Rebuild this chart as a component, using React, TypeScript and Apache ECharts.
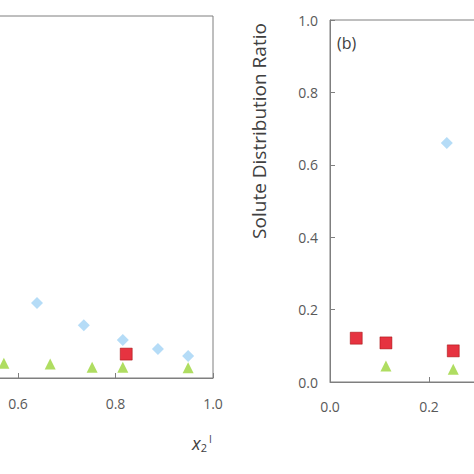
import { useEffect, useRef } from "react";
import * as echarts from "echarts";

// panel (a), only its right part is visible
const aDiamondX = [0.639, 0.735, 0.815, 0.887, 0.949];
const aDiamondY = [0.207, 0.146, 0.105, 0.08, 0.061];
const aSquareX = [0.822];
const aSquareY = [0.066];
const aTriangleX = [0.571, 0.666, 0.752, 0.815, 0.949];
const aTriangleY = [0.041, 0.039, 0.03, 0.03, 0.028];

// panel (b)
const bDiamondX = [0.236];
const bDiamondY = [0.66];
const bSquareX = [0.053, 0.113, 0.249];
const bSquareY = [0.121, 0.108, 0.086];
const bTriangleX = [0.113, 0.249];
const bTriangleY = [0.044, 0.035];

// tick labels that fall inside the window
const aXLabels = [0.6, 0.8, 1.0];
const bXLabels = [0.0, 0.2];
const bYLabels = [0.0, 0.2, 0.4, 0.6, 0.8, 1.0];

const zip = (xs: number[], ys: number[]) => xs.map((x, i) => [x, ys[i]]);

const FONT = "'Open Sans', 'Noto Sans', sans-serif";
const AXIS = "#7f7f7f";
const LABEL = "#595959";
// the figure is wider than the window; the chart canvas is shifted left by this much
const SHIFT = 300;

export default function App() {
  const chartRef = useRef<HTMLDivElement>(null);

  useEffect(() => {
    if (!chartRef.current) return;
    const chart = echarts.init(chartRef.current, null, { renderer: "svg" });

    const near = (list: number[], v: number) => list.some((t) => Math.abs(t - v) < 1e-6);

    const axisBase = (gridIndex: number, margin: number, shown: number[]) => ({
      type: "value",
      gridIndex,
      min: 0,
      max: 1,
      interval: 0.2,
      axisLine: { show: true, lineStyle: { color: AXIS } },
      axisTick: { show: true, inside: true, length: 5, lineStyle: { color: AXIS } },
      splitLine: { show: false },
      axisLabel: {
        color: LABEL,
        fontSize: 14,
        fontFamily: FONT,
        margin,
        formatter: (v: number) => (near(shown, v) ? v.toFixed(1) : ""),
      },
    });

    const diamond = { symbol: "diamond", symbolSize: 12, itemStyle: { color: "#a3d3f5" } };
    const square = {
      symbol: "rect",
      symbolSize: 12,
      itemStyle: { color: "#e00010", borderColor: "#9a0000", borderWidth: 0.6 },
    };
    const triangle = { symbol: "triangle", symbolSize: 11, itemStyle: { color: "#9bd43a" } };

    const option = {
      animation: false,
      grid: [
        { left: SHIFT - 274.5, top: 16, width: 487.5, height: 362, show: true, borderColor: AXIS, borderWidth: 1 },
        { left: SHIFT + 330, top: 20, width: 495, height: 362, show: true, borderColor: AXIS, borderWidth: 1 },
      ],
      xAxis: [axisBase(0, 18, aXLabels), axisBase(1, 17, bXLabels)],
      yAxis: [axisBase(0, 12, []), axisBase(1, 12, bYLabels)],
      series: [
        { type: "scatter", xAxisIndex: 0, yAxisIndex: 0, data: zip(aDiamondX, aDiamondY), ...diamond },
        { type: "scatter", xAxisIndex: 0, yAxisIndex: 0, data: zip(aTriangleX, aTriangleY), ...triangle },
        { type: "scatter", xAxisIndex: 0, yAxisIndex: 0, data: zip(aSquareX, aSquareY), ...square },
        { type: "scatter", xAxisIndex: 1, yAxisIndex: 1, data: zip(bDiamondX, bDiamondY), ...diamond },
        { type: "scatter", xAxisIndex: 1, yAxisIndex: 1, data: zip(bTriangleX, bTriangleY), ...triangle },
        { type: "scatter", xAxisIndex: 1, yAxisIndex: 1, data: zip(bSquareX, bSquareY), ...square },
      ],
      graphic: [
        {
          type: "text",
          x: SHIFT + 259,
          y: 131,
          rotation: Math.PI / 2,
          style: {
            text: "Solute Distribution Ratio",
            fontSize: 19,
            fontFamily: FONT,
            fill: "#404040",
            align: "center",
            verticalAlign: "middle",
          },
        },
        {
          type: "text",
          x: SHIFT + 337,
          y: 43,
          style: {
            text: "(b)",
            fontSize: 16,
            fontFamily: FONT,
            fill: "#404040",
            align: "left",
            verticalAlign: "middle",
          },
        },
        {
          type: "text",
          x: SHIFT + 192,
          y: 443,
          style: {
            text: "{i|x}{sub|2}{sup|I}",
            fontFamily: FONT,
            fill: "#404040",
            verticalAlign: "middle",
            rich: {
              i: { fontSize: 18, fontStyle: "italic", fontFamily: FONT, fill: "#404040" },
              sub: { fontSize: 11, fontFamily: FONT, fill: "#404040", verticalAlign: "bottom", padding: [8, 0, 0, 0] },
              sup: { fontSize: 10, fontFamily: FONT, fill: "#404040", verticalAlign: "top", padding: [0, 0, 8, 2] },
            },
          },
        },
      ],
    };

    chart.setOption(option);
    return () => {
      chart.dispose();
    };
  }, []);

  return (
    <div
      style={{ position: "fixed", left: 0, top: 0, width: 474, height: 474, overflow: "hidden", background: "#fff" }}
    >
      <div
        ref={chartRef}
        style={{ position: "absolute", left: -SHIFT, top: 0, width: 1200, height: 474 }}
      ></div>
    </div>
  );
}
